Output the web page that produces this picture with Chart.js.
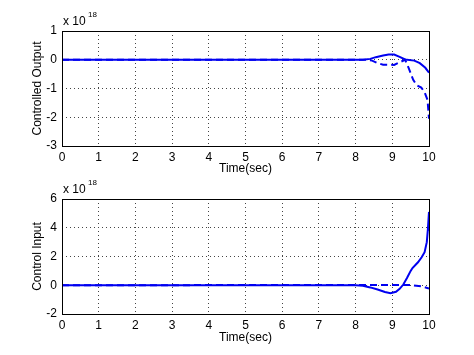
<!DOCTYPE html>
<html>
<head>
<meta charset="utf-8">
<script src="https://cdn.jsdelivr.net/npm/chart.js@4"></script>
<style>
  html, body { margin: 0; padding: 0; background: #fff; }
  #wrap { position: relative; width: 474px; height: 355px; overflow: hidden; }
  .pane { position: absolute; left: 0; width: 474px; height: 180px; }
</style>
</head>
<body>
<div id="wrap">
  <div class="pane" style="top:0"><canvas id="top" width="474" height="180"></canvas></div>
  <div class="pane" style="top:175px"><canvas id="bot" width="474" height="180"></canvas></div>
</div>
<script>
// values in units of 1e18
const xTicks = [0, 1, 2, 3, 4, 5, 6, 7, 8, 9, 10];
const outTicks = [1, 0, -1, -2, -3];
const inTicks = [6, 4, 2, 0, -2];

const outSolidT = [0, 8.2, 8.4, 8.55, 8.75, 8.9, 9.05, 9.2, 9.35, 9.6, 9.75, 9.9, 10];
const outSolidY = [0, 0, 0.03, 0.09, 0.15, 0.18, 0.18, 0.1, 0.01, -0.03, -0.12, -0.28, -0.45];
const outDashT = [0, 8.3, 8.45, 8.6, 8.75, 9.05, 9.2, 9.35, 9.45, 9.57, 9.66, 9.79, 9.88, 9.96, 10];
const outDashY = [0, 0, -0.03, -0.12, -0.17, -0.18, -0.09, 0, -0.3, -0.7, -0.88, -0.97, -1.13, -1.4, -2.05];

const inSolidT = [0, 8.0, 8.2, 8.4, 8.6, 8.8, 8.95, 9.1, 9.2, 9.3, 9.4, 9.5, 9.55, 9.7, 9.8, 9.88, 9.94, 9.97, 10, 10];
const inSolidY = [0, 0, -0.04, -0.15, -0.3, -0.47, -0.55, -0.45, -0.25, 0.05, 0.5, 1.0, 1.2, 1.6, 1.95, 2.3, 3.0, 3.9, 5.1, 3.8];
const inDashT = [0, 8.2, 9.5, 9.8, 10];
const inDashY = [0, 0.02, 0.02, -0.08, -0.22];

const BLUE = '#0000f0';
const FONT = 'Liberation Sans, Arial, sans-serif';
const pts = (t, y) => t.map((v, i) => ({ x: v, y: y[i] }));

// box round the plot area + the "x 10^18" exponent label
const boxPlugin = {
  id: 'box',
  afterDraw(chart) {
    const { ctx, chartArea: a } = chart;
    ctx.save();
    ctx.strokeStyle = '#000';
    ctx.lineWidth = 1;
    ctx.strokeRect(Math.round(a.left) + 0.5, Math.round(a.top) + 0.5, Math.round(a.right - a.left), Math.round(a.bottom - a.top));
    ctx.fillStyle = '#000';
    ctx.textBaseline = 'middle';
    ctx.font = '12px ' + FONT;
    ctx.fillText('x 10', a.left + 1, a.top - 9);
    ctx.font = '8px ' + FONT;
    ctx.fillText('18', a.left + 26, a.top - 16);
    ctx.restore();
  },
};

function makeChart(id, solid, dashed, yTicks, yTitle, padTop, xHeight, titleGap) {
  const ymin = Math.min(...yTicks), ymax = Math.max(...yTicks);
  return new Chart(document.getElementById(id), {
    type: 'line',
    data: {
      datasets: [
        { data: solid, borderColor: BLUE, borderWidth: 2, pointRadius: 0, tension: 0 },
        { data: dashed, borderColor: BLUE, borderWidth: 2, borderDash: [7, 4], pointRadius: 0, tension: 0 },
      ],
    },
    options: {
      responsive: false, animation: false, events: [],
      layout: { padding: { left: 0, right: 45, top: padTop, bottom: 0 } },
      plugins: { legend: { display: false }, tooltip: { enabled: false } },
      scales: {
        x: {
          type: 'linear', min: 0, max: 10,
          afterBuildTicks: (s) => { s.ticks = xTicks.map((v) => ({ value: v })); },
          afterFit: (s) => { s.height = xHeight; },
          ticks: { color: '#000', font: { family: FONT, size: 12 }, padding: 4, maxRotation: 0 },
          grid: { color: '#444', lineWidth: 1, drawTicks: false },
          border: { display: false, dash: [1, 3] },
          title: { display: true, text: 'Time(sec)', color: '#000', font: { family: FONT, size: 12 }, padding: { top: 0, bottom: titleGap } },
        },
        y: {
          min: ymin, max: ymax,
          afterBuildTicks: (s) => { s.ticks = yTicks.map((v) => ({ value: v })); },
          afterFit: (s) => { s.width = 62; },
          ticks: { color: '#000', font: { family: FONT, size: 12 }, padding: 5 },
          grid: { color: '#444', lineWidth: 1, drawTicks: false },
          border: { display: false, dash: [1, 3] },
          title: { display: true, text: yTitle, color: '#000', font: { family: FONT, size: 12 }, padding: { top: 30, bottom: 0 } },
        },
      },
    },
    plugins: [boxPlugin],
  });
}

makeChart('top', pts(outSolidT, outSolidY), pts(outDashT, outDashY), outTicks, 'Controlled Output', 31, 34, 4);
makeChart('bot', pts(inSolidT, inSolidY), pts(inDashT, inDashY), inTicks, 'Control Input', 24, 41, 10);
</script>
</body>
</html>
